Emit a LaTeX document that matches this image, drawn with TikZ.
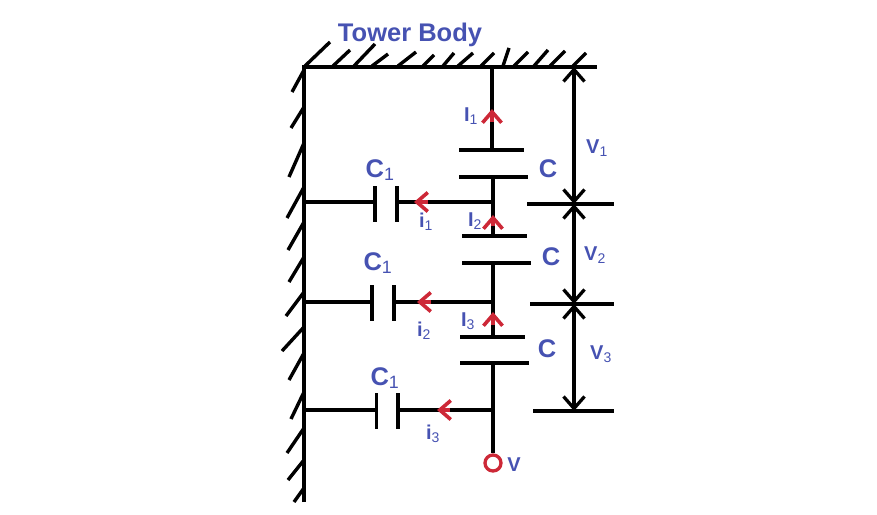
\documentclass[tikz,border=0pt]{standalone}
\usepackage{fontspec}
\setmainfont{Liberation Sans}
\usetikzlibrary{arrows.meta}
\definecolor{labelblue}{RGB}{70,82,178}
\definecolor{flowred}{RGB}{205,40,55}
\begin{document}
\begin{tikzpicture}
      [
      x=1pt,y=-1pt,
      wire/.style={line width=3.3pt,black},
      hatch/.style={line width=3.4pt,black},
      hplate/.style={rectangle,fill=black,inner sep=0pt,outer sep=0pt,minimum height=3.3pt},
      vplate/.style={rectangle,fill=black,inner sep=0pt,outer sep=0pt,minimum width=3.6pt,minimum height=36pt},
      volt/.style={wire,{Straight Barb[length=12pt,width=21pt,line width=3.3pt]}-{Straight Barb[length=12pt,width=21pt,line width=3.3pt]}},
      flow/.style={line width=3.6pt,flowred,-{Straight Barb[length=11pt,width=19pt,line width=3.6pt]}},
      big/.style={text=labelblue,font=\fontsize{25.5}{25.5}\selectfont\bfseries,inner sep=0pt},
      small/.style={text=labelblue,font=\fontsize{20}{20}\selectfont\bfseries,inner sep=0pt}
      ]
      \useasboundingbox (0,0) rectangle (877,514);
      % wall
      \coordinate (tl) at (304,67);
      \coordinate (tr) at (597,67);
      \coordinate (bl) at (304,502);
      \draw [wire] (bl) -- (tl) -- (tr);
      \foreach \xa/\xb/\yb in {305/330/42,333/350/50,354/375/44,372/388/54,398/416/52,423/434/55,443/454/53,458/473/53,481/494/53,503/509/48,514/528/52,534/548/50,550/565/51,573/586/53}
        \draw [hatch] (\xa,66) -- (\xb,\yb);
      \foreach \ya/\xb/\yb in {70/292/92,107/291/128,143/289/177,187/287/218,222/288/250,257/289/282,292/286/316,327/282/351,353/289/380,392/291/419,428/287/453,460/288/480,488/294/502}
        \draw [hatch] (304,\ya) -- (\xb,\yb);
      % main branch
      \coordinate (t0) at (492,67);
      \node (a1) at (491.5,150) [hplate,minimum width=65pt] {};
      \node (b1) at (493.5,177) [hplate,minimum width=69pt] {};
      \node (a2) at (494.5,236) [hplate,minimum width=65pt] {};
      \node (b2) at (496.5,263) [hplate,minimum width=69pt] {};
      \node (a3) at (492.5,337) [hplate,minimum width=65pt] {};
      \node (b3) at (494.5,363) [hplate,minimum width=69pt] {};
      \node (out) at (493,463) [circle,draw=flowred,line width=3.3pt,inner sep=0pt,minimum size=16pt] {};
      \coordinate (j1) at (493,202);
      \coordinate (j2) at (493,302);
      \coordinate (j3) at (493,410);
      \draw [wire] (t0) -- (t0 |- a1);
      \draw [wire] (j1 |- b1) -- (j1 |- a2);
      \draw [wire] (j2 |- b2) -- (j2 |- a3);
      \draw [wire] (j3 |- b3) -- (out);
      % side capacitors
      \coordinate (w1) at (304,202);
      \coordinate (w2) at (304,302);
      \coordinate (w3) at (304,410);
      \node (c1) at (375,204) [vplate] {};
      \node (d1) at (397,204) [vplate] {};
      \node (c2) at (372,303) [vplate] {};
      \node (d2) at (394,303) [vplate] {};
      \node (c3) at (376.5,411) [vplate] {};
      \node (d3) at (398,411) [vplate] {};
      \draw [wire] (w1) -- (w1 -| c1);
      \draw [wire] (j1) -- (j1 -| d1);
      \draw [wire] (w2) -- (w2 -| c2);
      \draw [wire] (j2) -- (j2 -| d2);
      \draw [wire] (w3) -- (w3 -| c3);
      \draw [wire] (j3) -- (j3 -| d3);
      % voltages
      \coordinate (v0) at (574,67);
      \coordinate (v1) at (574,204);
      \coordinate (v2) at (574,304);
      \coordinate (v3) at (574,411);
      \coordinate (e1) at (527,204);
      \coordinate (f1) at (614,204);
      \coordinate (e2) at (530,304);
      \coordinate (f2) at (614,304);
      \coordinate (e3) at (533,411);
      \coordinate (f3) at (614,411);
      \draw [wire] (e1) -- (f1);
      \draw [wire] (e2) -- (f2);
      \draw [wire] (e3) -- (f3);
      \draw [volt] (v0) -- (v1);
      \draw [volt] (v1) -- (v2);
      \draw [volt] (v2) -- (v3);
      % currents
      \coordinate (I1s) at (492,122);
      \coordinate (I1t) at (492,109);
      \coordinate (I2s) at (493,226);
      \coordinate (I2t) at (493,215);
      \coordinate (I3s) at (493,325);
      \coordinate (I3t) at (493,312);
      \coordinate (i1s) at (428,202);
      \coordinate (i1t) at (414,202);
      \coordinate (i2s) at (431,302);
      \coordinate (i2t) at (417,302);
      \coordinate (i3s) at (450,410);
      \coordinate (i3t) at (437,410);
      \foreach \a in {I1,I2,I3,i1,i2,i3}
        \draw [flow] (\a s) -- (\a t);
      % labels
      \node (tower) at (410,35) [big] {Tower Body};
      \node (C1) at (548,169) [big] {C};
      \node (C2) at (551,257) [big] {C};
      \node (C3) at (547,349) [big] {C};
      \node (Cs1) at (380,170) [big] {C\textsubscript{\mdseries 1}};
      \node (Cs2) at (378,263) [big] {C\textsubscript{\mdseries 1}};
      \node (Cs3) at (385,378) [big] {C\textsubscript{\mdseries 1}};
      \node (V1) at (597,148) [small] {V\textsubscript{\mdseries 1}};
      \node (V2) at (595,255) [small] {V\textsubscript{\mdseries 2}};
      \node (V3) at (601,354) [small] {V\textsubscript{\mdseries 3}};
      \node (L1) at (471,116) [small] {I\textsubscript{\mdseries 1}};
      \node (L2) at (475,221) [small] {I\textsubscript{\mdseries 2}};
      \node (L3) at (468,321) [small] {I\textsubscript{\mdseries 3}};
      \node (l1) at (426,222) [small] {i\textsubscript{\mdseries 1}};
      \node (l2) at (424,331) [small] {i\textsubscript{\mdseries 2}};
      \node (l3) at (433,434) [small] {i\textsubscript{\mdseries 3}};
      \node (Vout) at (514,465) [small] {V};
    \end{tikzpicture}
\end{document}
